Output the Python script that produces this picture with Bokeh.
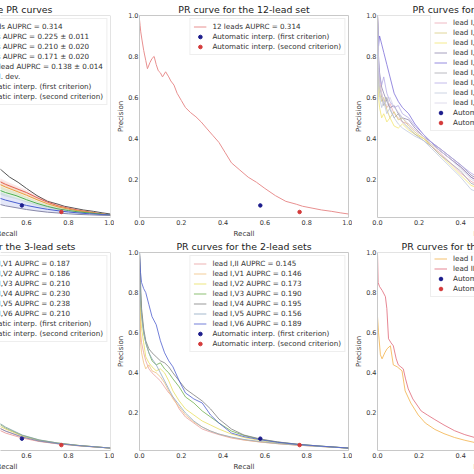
from bokeh.plotting import figure
from bokeh.layouts import column, row
from bokeh.models import (Legend, LegendItem, Span, Range1d, FixedTicker, Title,
                          PrintfTickFormatter)
from bokeh.embed import file_html
from bokeh.resources import INLINE

FONT = "DejaVu Sans"

# ---------------- data ----------------
# 12-lead PR curve
recall_12 = [0.0, 0.003, 0.006, 0.012, 0.02, 0.03, 0.038, 0.05, 0.06, 0.07, 0.08, 0.09, 0.1, 0.11,
             0.125, 0.14, 0.15, 0.165, 0.18, 0.2, 0.22, 0.245, 0.27, 0.295, 0.32, 0.35, 0.38, 0.41,
             0.44, 0.48, 0.52, 0.56, 0.6, 0.65, 0.7, 0.75, 0.78, 0.83, 0.87, 0.92, 0.96, 1.0]
precision_12 = [0.98, 0.95, 0.92, 0.88, 0.83, 0.78, 0.74, 0.77, 0.79, 0.80, 0.76, 0.73, 0.72, 0.70,
                0.725, 0.70, 0.68, 0.66, 0.62, 0.585, 0.55, 0.525, 0.505, 0.48, 0.45, 0.415, 0.38, 0.33,
                0.28, 0.245, 0.21, 0.185, 0.155, 0.12, 0.092, 0.078, 0.068, 0.058, 0.05, 0.043, 0.036, 0.03]

# mean curves of the reduced lead sets (with standard deviation)
recall_mean = [0.0, 0.05, 0.1, 0.2, 0.3, 0.4, 0.45, 0.5, 0.55, 0.6, 0.65, 0.7, 0.75, 0.8, 0.85, 0.9, 0.95, 1.0]
mean_6 = [0.82, 0.68, 0.6, 0.45, 0.34, 0.24, 0.2, 0.175, 0.155, 0.135, 0.11, 0.088, 0.07, 0.058, 0.048, 0.04, 0.032, 0.025]
std_6 = [0.05, 0.04, 0.04, 0.03, 0.025, 0.02, 0.018, 0.016, 0.014, 0.012, 0.011, 0.01, 0.008, 0.006, 0.005, 0.004, 0.003, 0.002]
mean_3 = [0.8, 0.62, 0.55, 0.42, 0.31, 0.22, 0.185, 0.162, 0.142, 0.122, 0.1, 0.08, 0.065, 0.054, 0.045, 0.038, 0.031, 0.025]
std_3 = [0.06, 0.05, 0.05, 0.04, 0.03, 0.025, 0.022, 0.02, 0.018, 0.015, 0.013, 0.011, 0.009, 0.007, 0.006, 0.005, 0.004, 0.002]
mean_2 = [0.78, 0.6, 0.5, 0.36, 0.25, 0.18, 0.155, 0.135, 0.12, 0.1, 0.082, 0.067, 0.055, 0.047, 0.04, 0.035, 0.03, 0.025]
std_2 = [0.07, 0.06, 0.05, 0.04, 0.03, 0.025, 0.022, 0.02, 0.017, 0.014, 0.012, 0.01, 0.008, 0.007, 0.006, 0.005, 0.004, 0.002]
mean_1 = [0.7, 0.55, 0.45, 0.3, 0.2, 0.14, 0.115, 0.098, 0.085, 0.072, 0.062, 0.053, 0.046, 0.04, 0.035, 0.031, 0.028, 0.025]
std_1 = [0.08, 0.06, 0.05, 0.045, 0.04, 0.035, 0.032, 0.028, 0.024, 0.02, 0.017, 0.014, 0.011, 0.009, 0.007, 0.005, 0.004, 0.002]

# 6-lead sets
recall_6 = [0, 0.005, 0.01, 0.02, 0.03, 0.045, 0.06, 0.08, 0.1, 0.12, 0.15, 0.18, 0.22, 0.26, 0.3,
            0.35, 0.4, 0.45, 0.5, 0.6, 0.7, 0.8, 0.9, 1.0]
labels_6 = ["lead I,II,V1,V2,V3,V4 AUPRC = 0.221", "lead I,II,V1,V2,V3,V5 AUPRC = 0.228",
            "lead I,II,V1,V2,V3,V6 AUPRC = 0.212", "lead I,II,V1,V2,V4,V5 AUPRC = 0.235",
            "lead I,II,V2,V3,V4,V5 AUPRC = 0.241", "lead I,II,V1,V3,V5,V6 AUPRC = 0.219",
            "lead I,II,V2,V4,V5,V6 AUPRC = 0.230", "lead I,II,V1,V4,V5,V6 AUPRC = 0.209",
            "lead I,II,V3,V4,V5,V6 AUPRC = 0.226"]
colors_6 = ["#eaa4b0", "#d6c878", "#f2e46a", "#8a80a8", "#7466d6", "#a4a4ac", "#b0a6e4", "#bcc6da", "#d4d0e6"]
precision_6 = [
    [1.0, 0.75, 0.68, 0.62, 0.58, 0.55, 0.57, 0.52, 0.5, 0.48, 0.47, 0.44, 0.41, 0.36, 0.33, 0.28, 0.23, 0.19, 0.16, 0.12, 0.09, 0.06, 0.045, 0.03],
    [1.0, 0.7, 0.62, 0.58, 0.6, 0.54, 0.5, 0.53, 0.49, 0.5, 0.46, 0.43, 0.4, 0.37, 0.34, 0.3, 0.26, 0.21, 0.18, 0.13, 0.095, 0.065, 0.045, 0.03],
    [1.0, 0.6, 0.55, 0.5, 0.52, 0.48, 0.5, 0.46, 0.45, 0.47, 0.44, 0.42, 0.4, 0.36, 0.32, 0.27, 0.22, 0.17, 0.15, 0.11, 0.085, 0.06, 0.045, 0.03],
    [1.0, 0.8, 0.72, 0.65, 0.62, 0.58, 0.55, 0.56, 0.52, 0.5, 0.49, 0.45, 0.41, 0.38, 0.35, 0.31, 0.27, 0.22, 0.19, 0.14, 0.1, 0.07, 0.05, 0.03],
    [1.0, 0.85, 0.9, 0.86, 0.82, 0.76, 0.7, 0.62, 0.58, 0.55, 0.52, 0.47, 0.42, 0.38, 0.34, 0.3, 0.26, 0.21, 0.18, 0.14, 0.1, 0.07, 0.05, 0.03],
    [1.0, 0.72, 0.66, 0.6, 0.56, 0.6, 0.54, 0.5, 0.52, 0.48, 0.45, 0.42, 0.39, 0.36, 0.32, 0.28, 0.24, 0.18, 0.16, 0.12, 0.09, 0.065, 0.045, 0.03],
    [1.0, 0.78, 0.7, 0.66, 0.7, 0.62, 0.58, 0.55, 0.56, 0.52, 0.5, 0.46, 0.42, 0.38, 0.35, 0.31, 0.27, 0.23, 0.2, 0.14, 0.1, 0.07, 0.05, 0.03],
    [1.0, 0.65, 0.6, 0.55, 0.58, 0.52, 0.55, 0.5, 0.47, 0.45, 0.43, 0.41, 0.39, 0.35, 0.31, 0.26, 0.21, 0.15, 0.13, 0.1, 0.08, 0.06, 0.045, 0.03],
    [1.0, 0.74, 0.66, 0.62, 0.58, 0.56, 0.6, 0.55, 0.53, 0.5, 0.47, 0.44, 0.41, 0.37, 0.34, 0.3, 0.25, 0.2, 0.17, 0.13, 0.095, 0.065, 0.045, 0.03],
]

# 3-lead and 2-lead sets share one recall grid
recall_23 = [0, 0.005, 0.01, 0.02, 0.03, 0.045, 0.06, 0.08, 0.1, 0.12, 0.14, 0.16, 0.19, 0.22, 0.26,
             0.3, 0.34, 0.38, 0.44, 0.5, 0.58, 0.66, 0.75, 0.85, 1.0]
labels_3 = ["lead I,II,V1 AUPRC = 0.187", "lead I,II,V2 AUPRC = 0.186", "lead I,II,V3 AUPRC = 0.210",
            "lead I,II,V4 AUPRC = 0.230", "lead I,II,V5 AUPRC = 0.238", "lead I,II,V6 AUPRC = 0.210"]
colors_3 = ["#e89090", "#f0b070", "#e0d060", "#90b070", "#80a0a0", "#7080c8"]
precision_3 = [
    [1.0, 0.85, 0.78, 0.7, 0.65, 0.6, 0.56, 0.52, 0.48, 0.45, 0.42, 0.39, 0.35, 0.31, 0.27, 0.23, 0.19, 0.16, 0.13, 0.1, 0.075, 0.058, 0.046, 0.036, 0.025],
    [1.0, 0.82, 0.75, 0.68, 0.64, 0.6, 0.57, 0.53, 0.49, 0.46, 0.43, 0.4, 0.35, 0.3, 0.26, 0.22, 0.19, 0.165, 0.14, 0.11, 0.08, 0.06, 0.047, 0.037, 0.025],
    [1.0, 0.88, 0.8, 0.74, 0.7, 0.66, 0.62, 0.58, 0.54, 0.5, 0.47, 0.44, 0.4, 0.35, 0.3, 0.26, 0.22, 0.18, 0.15, 0.12, 0.085, 0.063, 0.049, 0.038, 0.025],
    [1.0, 0.9, 0.84, 0.78, 0.74, 0.7, 0.66, 0.62, 0.58, 0.55, 0.52, 0.48, 0.44, 0.39, 0.34, 0.29, 0.25, 0.21, 0.165, 0.125, 0.088, 0.065, 0.05, 0.038, 0.025],
    [1.0, 0.92, 0.86, 0.8, 0.76, 0.72, 0.68, 0.64, 0.6, 0.57, 0.54, 0.5, 0.46, 0.41, 0.36, 0.31, 0.27, 0.22, 0.17, 0.13, 0.09, 0.066, 0.05, 0.038, 0.025],
    [1.0, 0.88, 0.82, 0.75, 0.7, 0.66, 0.62, 0.58, 0.55, 0.52, 0.48, 0.44, 0.4, 0.35, 0.3, 0.25, 0.21, 0.18, 0.14, 0.11, 0.08, 0.06, 0.047, 0.037, 0.025],
]
labels_2 = ["lead I,II AUPRC = 0.145", "lead I,V1 AUPRC = 0.146", "lead I,V2 AUPRC = 0.173",
            "lead I,V3 AUPRC = 0.190", "lead I,V4 AUPRC = 0.195", "lead I,V5 AUPRC = 0.156",
            "lead I,V6 AUPRC = 0.189"]
colors_2 = ["#e8a0a0", "#f0c080", "#e8e060", "#70b050", "#808080", "#90a8c0", "#5060d0"]
precision_2 = [
    [1.0, 0.6, 0.55, 0.5, 0.46, 0.42, 0.4, 0.38, 0.36, 0.33, 0.3, 0.28, 0.22, 0.18, 0.15, 0.12, 0.105, 0.092, 0.075, 0.065, 0.055, 0.047, 0.04, 0.034, 0.025],
    [1.0, 0.55, 0.5, 0.45, 0.42, 0.44, 0.41, 0.4, 0.38, 0.35, 0.31, 0.27, 0.23, 0.19, 0.155, 0.13, 0.11, 0.095, 0.078, 0.066, 0.055, 0.047, 0.04, 0.034, 0.025],
    [1.0, 0.7, 0.62, 0.55, 0.48, 0.45, 0.43, 0.41, 0.42, 0.4, 0.36, 0.31, 0.26, 0.22, 0.19, 0.16, 0.14, 0.12, 0.095, 0.078, 0.062, 0.05, 0.042, 0.035, 0.025],
    [1.0, 0.8, 0.7, 0.6, 0.55, 0.5, 0.46, 0.44, 0.45, 0.42, 0.4, 0.37, 0.33, 0.28, 0.25, 0.21, 0.18, 0.15, 0.11, 0.088, 0.068, 0.055, 0.045, 0.036, 0.025],
    [1.0, 0.85, 0.72, 0.62, 0.56, 0.52, 0.5, 0.48, 0.46, 0.45, 0.43, 0.4, 0.36, 0.32, 0.29, 0.26, 0.22, 0.17, 0.12, 0.09, 0.07, 0.056, 0.045, 0.036, 0.025],
    [1.0, 0.75, 0.68, 0.6, 0.55, 0.5, 0.47, 0.44, 0.4, 0.36, 0.32, 0.28, 0.24, 0.2, 0.16, 0.13, 0.11, 0.095, 0.08, 0.068, 0.057, 0.048, 0.041, 0.034, 0.025],
    [1.0, 0.9, 0.85, 0.82, 0.8, 0.74, 0.68, 0.64, 0.56, 0.5, 0.46, 0.43, 0.36, 0.3, 0.27, 0.25, 0.19, 0.15, 0.1, 0.082, 0.066, 0.054, 0.044, 0.036, 0.025],
]

# single leads
recall_lead_i = [0, 0.005, 0.014, 0.022, 0.035, 0.046, 0.062, 0.076, 0.095, 0.118, 0.133, 0.16, 0.196,
                 0.23, 0.276, 0.32, 0.37, 0.42, 0.467, 0.55, 0.65, 0.75, 0.85, 1.0]
precision_lead_i = [0.68, 0.6, 0.49, 0.47, 0.5, 0.52, 0.535, 0.44, 0.43, 0.41, 0.31, 0.25, 0.19,
                    0.15, 0.118, 0.097, 0.078, 0.064, 0.053, 0.045, 0.038, 0.033, 0.029, 0.025]
recall_lead_ii = [0, 0.003, 0.01, 0.023, 0.038, 0.045, 0.053, 0.065, 0.076, 0.09, 0.1, 0.112, 0.124,
                  0.135, 0.148, 0.17, 0.21, 0.24, 0.276, 0.32, 0.37, 0.42, 0.467, 0.55, 0.65, 0.75, 0.85, 1.0]
precision_lead_ii = [1.0, 0.85, 0.83, 0.81, 0.78, 0.72, 0.57, 0.55, 0.535, 0.47, 0.44, 0.43, 0.42,
                     0.37, 0.32, 0.27, 0.21, 0.19, 0.167, 0.14, 0.112, 0.092, 0.078, 0.062, 0.05, 0.041, 0.034, 0.025]
labels_1 = ["lead I AUPRC = 0.124", "lead II AUPRC = 0.152"]
colors_1 = ["#f2b24a", "#e06878"]

# automatic interpretation operating points
auto_recall = [0.578, 0.766]
auto_precision = [0.072, 0.040]
auto_colors = ["#1c1c8c", "#d43a3a"]
auto_labels = ["Automatic interp. (first criterion)", "Automatic interp. (second criterion)"]

# ---------------- layout constants ----------------
PX = 210          # pixels per unit of recall
FL = 110          # visible frame width, left column
AX = 24           # room for the y axis of the middle / right columns
GAP = 4           # room right of a frame for the last x tick label
RIGHT_W = 474 - (FL + GAP) - (AX + PX + GAP)
Y0 = 0.013
SPINE = "#c8c8c8"
ROW_H = 237


def make_panel(kind, title, title_align, title_offset, xlabel_align, xlabel_offset, top, bottom):
    if kind == "left":
        width, fw, left, right = FL + GAP, FL, 0, GAP
    elif kind == "mid":
        width, fw, left, right = AX + PX + GAP, PX, AX, GAP
    else:
        width, fw, left, right = RIGHT_W, RIGHT_W - AX, AX, 0
    x_start = 1 - fw / PX if kind == "left" else 0.0
    p = figure(width=width, height=ROW_H, x_range=Range1d(x_start, x_start + fw / PX),
               y_range=Range1d(Y0, 1.0), output_backend="svg", toolbar_location=None, title=None,
               y_axis_location=None if kind == "left" else "left",
               min_border_left=left, min_border_right=right,
               min_border_top=top, min_border_bottom=bottom)
    p.xgrid.visible = False
    p.ygrid.visible = False
    for ax in p.axis:
        ax.major_tick_line_color = None
        ax.minor_tick_line_color = None
        ax.major_tick_out = 0
        ax.major_tick_in = 0
        ax.axis_line_color = SPINE
        ax.major_label_text_font = FONT
        ax.major_label_text_font_size = "6.5px"
        ax.major_label_text_color = "#333333"
        ax.major_label_standoff = 2
        ax.axis_label_text_font = FONT
        ax.axis_label_text_font_size = "7px"
        ax.axis_label_text_font_style = "normal"
        ax.axis_label_text_color = "#333333"
        ax.axis_label_standoff = 0
        ax.formatter = PrintfTickFormatter(format="%.1f")
    p.xaxis.ticker = FixedTicker(ticks=[0.0, 0.2, 0.4, 0.6, 0.8, 1.0])
    if kind != "left":
        p.yaxis.ticker = FixedTicker(ticks=[0.2, 0.4, 0.6, 0.8, 1.0])
        p.yaxis.axis_label = "Precision"
        p.yaxis.major_label_standoff = 1
    if kind == "mid":
        p.outline_line_color = SPINE
    else:
        p.outline_line_color = None
        p.add_layout(Span(location=1.0, dimension="width", line_color=SPINE, line_width=1))
        if kind == "left":
            p.add_layout(Span(location=1.0, dimension="height", line_color=SPINE, line_width=1))
    p.add_layout(Title(text=title, align=title_align, offset=title_offset, text_font=FONT,
                       text_font_size="9.4px", text_font_style="normal", text_color="#222222",
                       standoff=2), "above")
    p.add_layout(Title(text="Recall", align=xlabel_align, offset=xlabel_offset, text_font=FONT,
                       text_font_size="7px", text_font_style="normal", text_color="#333333",
                       standoff=0), "below")
    return p


def add_auto(p, items):
    for rx, ry, c, lab in zip(auto_recall, auto_precision, auto_colors, auto_labels):
        r = p.scatter([rx], [ry], size=3.5, color=c, line_color=c)
        items.append(LegendItem(label=lab, renderers=[r]))


def add_legend(p, items, location):
    lg = Legend(items=items, location=location, label_text_font=FONT, label_text_font_size="7.2px",
                label_text_color="#333333", label_height=9, glyph_height=9, glyph_width=13,
                label_standoff=6, spacing=1, padding=3, margin=3,
                border_line_color="#dddddd", background_fill_alpha=0.85)
    p.add_layout(lg)


TOP = dict(top=15, bottom=19)
BOT = dict(top=12, bottom=24)
FH_TOP = ROW_H - 15 - 19
FH_BOT = ROW_H - 12 - 24

# --- summary of all lead sets ---
p1 = make_panel("left", "Average PR curves", "right", 58, "right", 93, **TOP)
items = []
r = p1.line(recall_12, precision_12, line_color="#555555", line_width=1)
items.append(LegendItem(label="12 leads AUPRC = 0.314", renderers=[r]))
for mean, std, c, lab in [(mean_6, std_6, "#e05a5a", "6 leads AUPRC = 0.225 \u00b1 0.011"),
                          (mean_3, std_3, "#e8a040", "3 leads AUPRC = 0.210 \u00b1 0.020"),
                          (mean_2, std_2, "#4fae4f", "2 leads AUPRC = 0.171 \u00b1 0.020"),
                          (mean_1, std_1, "#4a5fd0", "Single lead AUPRC = 0.138 \u00b1 0.014")]:
    lo = [m - s for m, s in zip(mean, std)]
    hi = [m + s for m, s in zip(mean, std)]
    p1.varea(x=recall_mean, y1=lo, y2=hi, fill_color=c, fill_alpha=0.15)
    r = p1.line(recall_mean, mean, line_color=c, line_width=1)
    items.append(LegendItem(label=lab, renderers=[r]))
lo1 = [m - s for m, s in zip(mean_1, std_1)]
p1.line(recall_mean, lo1, line_color="#8888a8", line_width=1)
band = p1.varea(x=[2, 3], y1=[0, 0], y2=[0.1, 0.1], fill_color="#999999", fill_alpha=0.3)
items.append(LegendItem(label="\u00b1 1 std. dev.", renderers=[band]))
add_auto(p1, items)
add_legend(p1, items, "top_right")

# --- 12-lead set ---
p2 = make_panel("mid", "PR curve for the 12-lead set", "center", 0, "center", 0, **TOP)
items = []
r = p2.line(recall_12, precision_12, line_color="#e89090", line_width=1)
items.append(LegendItem(label="12 leads AUPRC = 0.314", renderers=[r]))
add_auto(p2, items)
add_legend(p2, items, "top_right")

# --- 6-lead sets ---
p3 = make_panel("right", "PR curves for the 6-lead sets", "left", 35, "left", 96, **TOP)
items = []
for prec, c, lab in zip(precision_6, colors_6, labels_6):
    r = p3.line(recall_6, prec, line_color=c, line_width=1, line_alpha=0.75)
    items.append(LegendItem(label=lab, renderers=[r]))
add_auto(p3, items)
add_legend(p3, items, (53, FH_TOP - 2 - (len(items) * 10 + 5)))

# --- 3-lead sets ---
p4 = make_panel("left", "PR curves for the 3-lead sets", "right", 35, "right", 93, **BOT)
items = []
for prec, c, lab in zip(precision_3, colors_3, labels_3):
    r = p4.line(recall_23, prec, line_color=c, line_width=1, line_alpha=0.8)
    items.append(LegendItem(label=lab, renderers=[r]))
add_auto(p4, items)
add_legend(p4, items, "top_right")

# --- 2-lead sets ---
p5 = make_panel("mid", "PR curves for the 2-lead sets", "center", 0, "center", 0, **BOT)
items = []
for prec, c, lab in zip(precision_2, colors_2, labels_2):
    r = p5.line(recall_23, prec, line_color=c, line_width=1, line_alpha=0.8)
    items.append(LegendItem(label=lab, renderers=[r]))
add_auto(p5, items)
add_legend(p5, items, "top_right")

# --- single leads ---
p6 = make_panel("right", "PR curves for the single leads", "left", 24, "left", 96, **BOT)
items = []
for rec, prec, c, lab in [(recall_lead_i, precision_lead_i, colors_1[0], labels_1[0]),
                          (recall_lead_ii, precision_lead_ii, colors_1[1], labels_1[1])]:
    r = p6.line(rec, prec, line_color=c, line_width=1, line_alpha=0.8)
    items.append(LegendItem(label=lab, renderers=[r]))
add_auto(p6, items)
add_legend(p6, items, (53, FH_BOT - 3 - (len(items) * 10 + 5)))

layout = column(row(p1, p2, p3, spacing=0), row(p4, p5, p6, spacing=0), spacing=0)
open("out.html", "w").write(file_html(layout, INLINE))
